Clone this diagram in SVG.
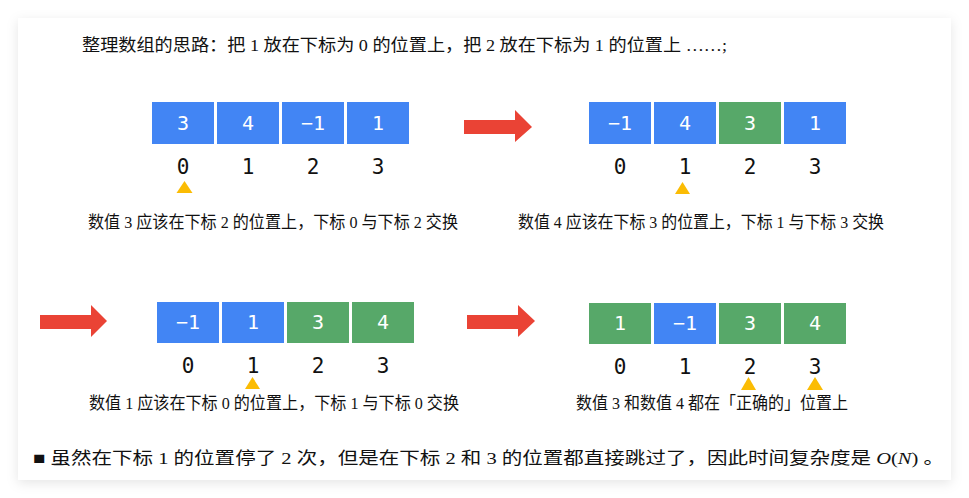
<svg xmlns="http://www.w3.org/2000/svg" width="969" height="498" viewBox="0 0 969 498">
<defs>
<filter id="sh" x="-5%" y="-5%" width="110%" height="115%">
<feDropShadow dx="0" dy="3" stdDeviation="6" flood-color="#000" flood-opacity="0.10"/>
</filter>
<style>
.b{fill:#4285F4}
.g{fill:#57A869}
.v{font-family:"DejaVu Sans Mono",monospace;font-size:20px;fill:#fff;text-anchor:middle}
.i{font-family:"DejaVu Sans Mono",monospace;font-size:21px;fill:#111;text-anchor:middle}
.t{fill:#FBBC04}
.a{fill:#EA4335}
.c{font-family:"Liberation Serif","Noto Sans CJK SC",sans-serif;font-size:17px;fill:#111}
.h{font-family:"Liberation Serif","Noto Sans CJK SC",sans-serif;font-size:17px;fill:#111}
</style>
</defs>
<rect x="0" y="0" width="969" height="498" fill="#fff"/>
<rect x="18" y="18" width="933" height="462" fill="#fff" filter="url(#sh)"/>

<text class="h" x="82" y="51" textLength="645" lengthAdjust="spacingAndGlyphs">整理数组的思路：把 1 放在下标为 0 的位置上，把 2 放在下标为 1 的位置上 ……;</text>

<g id="array1">
<rect class="b" x="152" y="102" width="62" height="42"/>
<rect class="b" x="217" y="102" width="62" height="42"/>
<rect class="b" x="282" y="102" width="62" height="42"/>
<rect class="b" x="347" y="102" width="62" height="42"/>
<text class="v" x="183" y="130">3</text>
<text class="v" x="248" y="130">4</text>
<text class="v" x="313" y="130">−1</text>
<text class="v" x="378" y="130">1</text>
<text class="i" x="183" y="174">0</text>
<text class="i" x="248" y="174">1</text>
<text class="i" x="313" y="174">2</text>
<text class="i" x="378" y="174">3</text>
<polygon class="t" points="176.5,193 184.5,181 192.5,193"/>
<text class="c" x="88" y="228" textLength="370" lengthAdjust="spacingAndGlyphs">数值 3 应该在下标 2 的位置上，下标 0 与下标 2 交换</text>
</g>

<g id="array2">
<rect class="b" x="589" y="102" width="62" height="42"/>
<rect class="b" x="654" y="102" width="62" height="42"/>
<rect class="g" x="719" y="102" width="62" height="42"/>
<rect class="b" x="784" y="102" width="62" height="42"/>
<text class="v" x="620" y="130">−1</text>
<text class="v" x="685" y="130">4</text>
<text class="v" x="750" y="130">3</text>
<text class="v" x="815" y="130">1</text>
<text class="i" x="620" y="174">0</text>
<text class="i" x="685" y="174">1</text>
<text class="i" x="750" y="174">2</text>
<text class="i" x="815" y="174">3</text>
<polygon class="t" points="675,194 682.5,182 690,194"/>
<text class="c" x="518" y="228" textLength="366" lengthAdjust="spacingAndGlyphs">数值 4 应该在下标 3 的位置上，下标 1 与下标 3 交换</text>
</g>

<g id="array3">
<rect class="b" x="157" y="302" width="62" height="41"/>
<rect class="b" x="222" y="302" width="62" height="41"/>
<rect class="g" x="287" y="302" width="62" height="41"/>
<rect class="g" x="352" y="302" width="62" height="41"/>
<text class="v" x="188" y="329">−1</text>
<text class="v" x="253" y="329">1</text>
<text class="v" x="318" y="329">3</text>
<text class="v" x="383" y="329">4</text>
<text class="i" x="188" y="373">0</text>
<text class="i" x="253" y="373">1</text>
<text class="i" x="318" y="373">2</text>
<text class="i" x="383" y="373">3</text>
<polygon class="t" points="245,389 252.5,377 260,389"/>
<text class="c" x="89" y="409" textLength="370" lengthAdjust="spacingAndGlyphs">数值 1 应该在下标 0 的位置上，下标 1 与下标 0 交换</text>
</g>

<g id="array4">
<rect class="g" x="589" y="303" width="62" height="41"/>
<rect class="b" x="654" y="303" width="62" height="41"/>
<rect class="g" x="719" y="303" width="62" height="41"/>
<rect class="g" x="784" y="303" width="62" height="41"/>
<text class="v" x="620" y="330">1</text>
<text class="v" x="685" y="330">−1</text>
<text class="v" x="750" y="330">3</text>
<text class="v" x="815" y="330">4</text>
<text class="i" x="620" y="374">0</text>
<text class="i" x="685" y="374">1</text>
<text class="i" x="750" y="374">2</text>
<text class="i" x="815" y="374">3</text>
<polygon class="t" points="741,390 748.5,377 756,390"/>
<polygon class="t" points="807,390 815,377 823,390"/>
<text class="c" x="576" y="409" textLength="272" lengthAdjust="spacingAndGlyphs">数值 3 和数值 4 都在「正确的」位置上</text>
</g>

<g id="connectors">
<polygon class="a" points="464,120 515,120 515,110 532,127 515,142 515,134 464,134"/>
<polygon class="a" points="40,315 91,315 91,305 107,321 91,337 91,329 40,329"/>
<polygon class="a" points="467,315 518,315 518,305 535,321 518,337 518,329 467,329"/>
</g>

<text class="h" x="33" y="464" textLength="911" lengthAdjust="spacingAndGlyphs">■ 虽然在下标 1 的位置停了 2 次，但是在下标 2 和 3 的位置都直接跳过了，因此时间复杂度是  <tspan font-style="italic">O</tspan>(<tspan font-style="italic">N</tspan>)  。</text>
</svg>
